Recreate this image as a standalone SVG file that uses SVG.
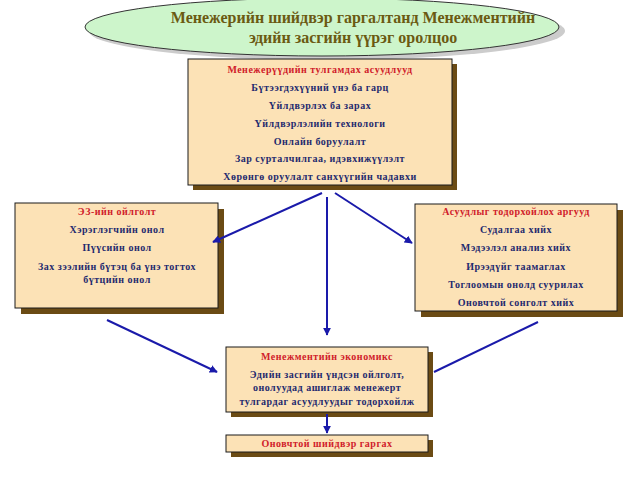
<svg xmlns="http://www.w3.org/2000/svg" width="638" height="479" viewBox="0 0 638 479">
<defs>
<style>
.box{fill:#FCE2B6;stroke:#1a1a1a;stroke-width:1}
.sh{fill:#6B4B14}
.t{font-family:"Liberation Serif","DejaVu Serif",serif;font-weight:bold;font-size:10px;text-anchor:middle;fill:#1F2A6E;letter-spacing:0.5px}
.r{fill:#D0202A}
.ttl{font-family:"Liberation Serif","DejaVu Serif",serif;font-weight:bold;font-size:16px;text-anchor:middle;fill:#6B5A12}
.c{stroke:#1A1AAA;stroke-width:2;fill:none}
</style>
<marker id="ah" viewBox="0 0 10 10" refX="9" refY="5" markerWidth="4" markerHeight="4" orient="auto"><path d="M0,0 L10,5 L0,10 z" fill="#1A1AAA"/></marker>
</defs>
<rect width="638" height="479" fill="#ffffff"/>
<g id="title">
<ellipse cx="327" cy="31" rx="238" ry="29" fill="#aaaaaa" opacity="0.6"/>
<ellipse cx="322" cy="27" rx="237" ry="29" fill="#CDF5CB" stroke="#333" stroke-width="1"/>
<text class="ttl" x="353" y="23">Менежерийн шийдвэр гаргалтанд Менежментийн</text>
<text class="ttl" x="353" y="43">эдийн засгийн үүрэг оролцоо</text>
</g>
<g id="problems">
<rect class="sh" x="193" y="64" width="264" height="126"/>
<rect class="box" x="188" y="59" width="264" height="126"/>
<text class="t r" x="320" y="73">Менежерүүдийн тулгамдах асуудлууд</text>
<text class="t" x="320" y="91">Бүтээгдэхүүний үнэ ба гарц</text>
<text class="t" x="320" y="109">Үйлдвэрлэх ба зарах</text>
<text class="t" x="320" y="127">Үйлдвэрлэлийн технологи</text>
<text class="t" x="320" y="145">Онлайн боруулалт</text>
<text class="t" x="320" y="162">Зар сурталчилгаа, идэвхижүүлэлт</text>
<text class="t" x="320" y="180">Хөрөнгө оруулалт санхүүгийн чадавхи</text>
</g>
<g id="econ-concept">
<rect class="sh" x="21" y="209" width="203" height="105"/>
<rect class="box" x="15" y="203" width="203" height="105"/>
<text class="t r" x="117" y="215">ЭЗ-ийн ойлголт</text>
<text class="t" x="117" y="233">Хэрэглэгчийн онол</text>
<text class="t" x="117" y="251">Пүүсийн онол</text>
<text class="t" x="117" y="270">Зах зээлийн бүтэц ба үнэ тогтох</text>
<text class="t" x="117" y="283">бүтцийн онол</text>
</g>
<g id="methods">
<rect class="sh" x="421" y="210" width="202" height="107"/>
<rect class="box" x="415" y="204" width="202" height="107"/>
<text class="t r" x="516" y="215">Асуудлыг тодорхойлох аргууд</text>
<text class="t" x="516" y="233">Судалгаа хийх</text>
<text class="t" x="516" y="251">Мэдээлэл анализ хийх</text>
<text class="t" x="516" y="270">Ирээдүйг таамаглах</text>
<text class="t" x="516" y="288">Тоглоомын онолд суурилах</text>
<text class="t" x="516" y="306">Оновчтой сонголт хийх</text>
</g>
<g id="man-econ">
<rect class="sh" x="231" y="352" width="202" height="65"/>
<rect class="box" x="226" y="347" width="202" height="65"/>
<text class="t r" x="327" y="360">Менежментийн экономикс</text>
<text class="t" x="327" y="378">Эдийн засгийн үндсэн ойлголт,</text>
<text class="t" x="327" y="391">онолуудад ашиглаж менежерт</text>
<text class="t" x="327" y="405">тулгардаг асуудлуудыг тодорхойлж</text>
</g>
<g id="decision">
<rect class="sh" x="231" y="440" width="202" height="17"/>
<rect class="box" x="226" y="435" width="202" height="17"/>
<text class="t r" x="327" y="447">Оновчтой шийдвэр гаргах</text>
</g>
<g id="connectors">
<line class="c" x1="322" y1="193" x2="213" y2="242" marker-end="url(#ah)"/>
<line class="c" x1="335" y1="193" x2="412" y2="243" marker-end="url(#ah)"/>
<line class="c" x1="327" y1="197" x2="327" y2="335" marker-end="url(#ah)"/>
<line class="c" x1="107" y1="320" x2="217" y2="372" marker-end="url(#ah)"/>
<line class="c" x1="538" y1="322" x2="434" y2="372"/>
<line class="c" x1="327" y1="414" x2="327" y2="433" marker-end="url(#ah)"/>
</g>
</svg>
